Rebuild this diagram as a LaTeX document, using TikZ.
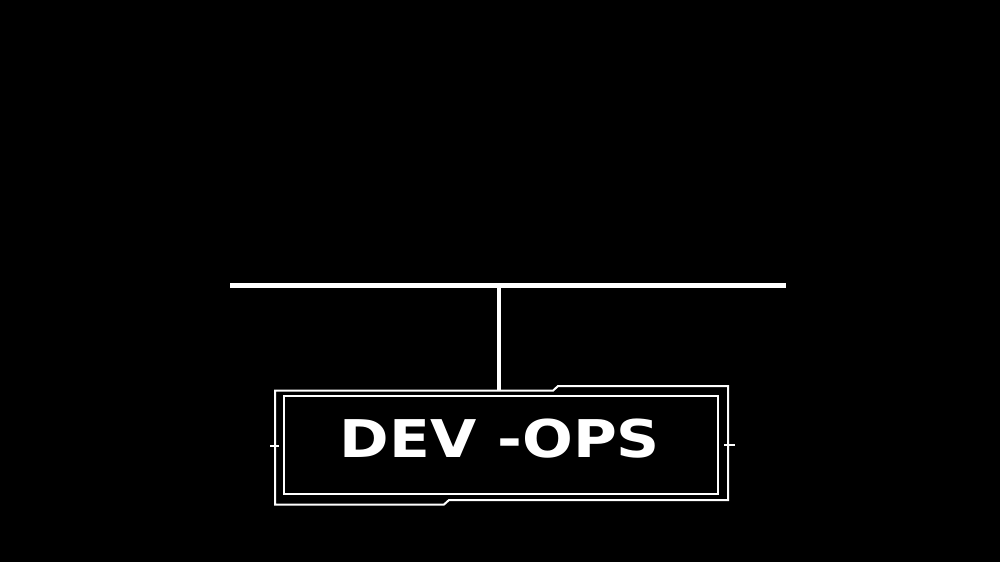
\documentclass[tikz,border=0pt]{standalone}
\usepackage{fontspec}
\newfontfamily\labelfont{DejaVu Sans}
\begin{document}
\begin{tikzpicture}[x=1pt,y=-1pt,
  frameline/.style={draw=white,line width=2pt},
  innerline/.style={draw=white,line width=2.4pt},
  barline/.style={draw=white,line width=5pt},
  stemline/.style={draw=white,line width=4pt},
  tickline/.style={draw=white,line width=1.6pt},
  labeltext/.style={text=white,font=\labelfont\bfseries\fontsize{52}{52}\selectfont,inner sep=0pt}]
\fill[black] (0,0) rectangle (1000,562);
\useasboundingbox (0,0) rectangle (1000,562);
% bar
\coordinate (barL) at (230,285);
\coordinate (barR) at (786,285);
\coordinate (stemTop) at (499,286);
\coordinate (stemBot) at (499,390.7);
\draw[barline] (barL) -- (barR);
\draw[stemline] (stemTop) -- (stemBot);
% outer frame
\coordinate (o1) at (275,390.7);
\coordinate (o2) at (553,390.7);
\coordinate (o3) at (558,386);
\coordinate (o4) at (728,386);
\coordinate (o5) at (728,500);
\coordinate (o6) at (449,500);
\coordinate (o7) at (444,504.5);
\coordinate (o8) at (275,504.5);
\draw[frameline] (o1) -- (o2) -- (o3) -- (o4) -- (o5) -- (o6) -- (o7) -- (o8) -- cycle;
% inner frame
\coordinate (i1) at (284,396);
\coordinate (i2) at (718,494);
\draw[innerline] (i1) rectangle (i2);
% ticks
\coordinate (tl1) at (270,446);
\coordinate (tl2) at (279,446);
\coordinate (tr1) at (724,445);
\coordinate (tr2) at (735,445);
\draw[tickline] (tl1) -- (tl2);
\draw[tickline] (tr1) -- (tr2);
% label
\node[labeltext] (label) at (500,439) {\scalebox{1.15}[1]{DEV -OPS}};
\end{tikzpicture}
\end{document}
